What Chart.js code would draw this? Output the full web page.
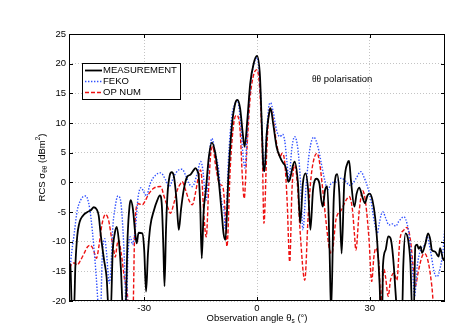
<!DOCTYPE html>
<html>
<head>
<meta charset="utf-8">
<script src="https://cdn.jsdelivr.net/npm/chart.js@4"></script>
<style>
  html, body { margin: 0; padding: 0; background: #fff; }
  canvas { display: block; }
</style>
</head>
<body>
<canvas id="rcs" width="474" height="334"></canvas>
<script>
// angles (deg) and RCS values (dBm^2); -22 = null below the axis
const measAngles = [-50, -49.6, -49.2, -48.7, -48.3, -47.8, -47.3, -46.9, -46.0, -45.1, -44.2, -43.4, -42.6, -42.1, -41.6, -40.7, -40.0, -39.4, -38.9, -38.4, -37.8, -37.3, -36.8, -36.2, -35.6, -35.0, -34.4, -33.9, -33.6, -33.0, -32.4, -32.0, -31.5, -30.5, -30.0, -29.5, -29.0, -28.4, -27.4, -26.5, -25.8, -25.3, -24.9, -24.6, -24.2, -23.8, -23.2, -22.7, -22.1, -21.4, -20.8, -20.2, -19.5, -18.6, -17.7, -16.8, -16.4, -15.9, -15.5, -15.1, -14.7, -14.2, -13.6, -12.8, -12.0, -11.1, -10.2, -9.3, -8.9, -8.4, -7.6, -6.7, -5.8, -5.2, -4.5, -3.8, -3.3, -2.5, -1.8, -0.9, 0, 0.8, 1.2, 1.7, 2.0, 2.6, 3.4, 3.6, 4.3, 5.2, 6.1, 7.0, 7.4, 7.8, 8.3, 8.7, 9.6, 10.0, 10.9, 11.5, 12.2, 12.9, 13.6, 14.2, 14.9, 15.8, 16.6, 17.1, 17.5, 18.1, 18.7, 19.3, 19.7, 20.4, 21.0, 21.3, 21.9, 22.5, 23.2, 24.1, 24.5, 25.0, 25.9, 26.5, 27.2, 28.0, 28.7, 29.4, 30.0, 30.7, 31.4, 32.0, 32.6, 32.9, 33.3, 33.5, 34.2, 34.9, 35.5, 35.9, 36.4, 36.9, 37.3, 38.6, 38.9, 39.5, 40.2, 40.8, 41.3, 41.7, 42.1, 42.6, 43.0, 43.5, 43.9, 44.8, 45.5, 46.1, 46.5, 47.4, 47.9, 48.3, 48.7, 49.6, 50];
const measValues = [-13.5, -14.5, -22, -22, -14, -9, -7, -6.2, -5.4, -5.0, -4.7, -4.2, -4.6, -5.6, -8.6, -13, -16, -22, -22, -12, -8.5, -7.5, -9.5, -14.5, -22, -22, -9, -4, -3, -4.5, -8.5, -10.3, -8.5, -8.6, -11.4, -18.4, -12, -7.5, -4.7, -3.0, -2.2, -4, -11, -17.5, -8, -2, 1.2, 1.7, 1.0, -3, -8.0, -4.5, -1.3, 0.9, 1.3, 2.1, 2.4, 2.0, 1.0, -4, -12.8, -5, -1.3, 4.3, 6.7, 4.9, 0.4, -5.8, -8.6, -9.7, 1.0, 9.4, 13.3, 13.9, 12.5, 8.3, 6.0, 11.1, 16.7, 20.0, 21.3, 17.8, 11, 2.6, 1.9, 8.3, 12.2, 12.5, 9.9, 6.0, 4.3, 3.2, 2.9, 2.1, 0.1, 0.4, 2.9, 3.5, -0.2, -6.9, -0.2, 1.5, -1.3, -8.0, -1.3, 0.6, -0.2, -3.0, -4.1, -1.3, -0.7, -11.4, -22, -3, 1.2, 1.4, -1.9, -12, -0.2, 3.3, 3.6, 0.2, -4.1, -1.9, -0.9, -2.4, -3.5, -2.2, -1.9, -3.0, -5.8, -10.3, -17, -22, -22, -14, -11.4, -9.1, -9.4, -10.8, -14.2, -19, -22, -22, -14.2, -8.6, -9.7, -13.6, -22, -22, -10.8, -10.5, -11.2, -10.8, -11.9, -10.3, -8.6, -9.7, -11.4, -11.7, -12.2, -12.5, -11.1, -13.1, -12.6];

const fekoAngles = [-50, -49.5, -48.6, -47.8, -46.9, -46.2, -45.5, -44.8, -44.2, -43.4, -42.7, -42.0, -41.6, -41.2, -40.5, -40.0, -39.3, -38.8, -38.4, -37.8, -37.0, -36.3, -35.7, -35.2, -34.8, -34.3, -33.7, -33.1, -32.3, -31.6, -30.8, -30.2, -29.4, -28.4, -27.0, -25.6, -24.3, -23.4, -22.1, -20.8, -19.9, -19.0, -18.1, -17.2, -15.9, -15.0, -14.4, -13.9, -13.5, -12.8, -12.0, -11.1, -10.2, -9.6, -9.2, -8.8, -8.4, -7.6, -6.7, -5.8, -5.2, -4.5, -3.6, -3.2, -2.5, -1.8, -0.9, 0, 0.8, 1.4, 1.85, 2.6, 3.2, 3.6, 4.3, 5.2, 6.1, 6.8, 7.4, 8.0, 8.5, 9.2, 10.0, 10.9, 11.6, 12.2, 13.1, 14.0, 15.1, 16.2, 17.1, 18.0, 18.8, 19.7, 21.0, 22.4, 23.7, 24.5, 25.4, 26.3, 27.6, 28.5, 29.4, 30.3, 31.1, 32.0, 32.5, 33.0, 33.5, 34.2, 35.1, 36.0, 36.9, 37.7, 39.1, 40.0, 40.4, 41.3, 41.9, 42.6, 43.5, 44.8, 45.2, 46.1, 47.2, 47.9, 48.7, 49.6, 50];
const fekoValues = [-17.5, -13.1, -8.6, -4.7, -3.0, -2.4, -2.3, -3.4, -5.8, -10.8, -16.4, -22, -22, -13.1, -9.5, -12, -17, -14, -8, -4.5, -2.3, -3, -7.5, -14.2, -22, -12, -9.2, -10.5, -7.5, -2.4, -0.9, -1.5, -2.3, -0.2, 1.2, 1.6, 0.4, -0.7, 1.0, 2.1, 2.2, 1.2, -0.2, -0.7, 1.5, 3.5, 2.1, -1.3, -3, 3.8, 7.4, 4.9, 2.1, -2.4, -3.8, -4.5, -8, 3.8, 11.1, 13.3, 13.8, 11.0, 3.8, 2.4, 9.9, 16.1, 19.8, 21.0, 16.7, 8.3, 1.8, 8.8, 13.0, 13.4, 11.9, 8.8, 7.7, 8.1, 6.9, 3.2, 0.4, 5.4, 7.7, 5.5, -0.2, -8, -0.2, 5.4, 7.6, 6.0, 3.2, 0.4, -1.3, -0.2, 0.1, 0.7, 0.1, -0.5, -0.2, 0.6, 1.8, 0.8, -0.75, -3, -6.3, -8.6, -7, -5.5, -5, -6, -7.2, -7.0, -7.4, -6.6, -5.8, -7.2, -8.6, -14.2, -19.2, -14.2, -11.4, -10.3, -9.1, -11.4, -15.3, -15.9, -14.5, -10.8, -7];

const opnumAngles = [-50, -49.5, -48.6, -47.8, -46.9, -46.0, -45.1, -44.4, -43.6, -42.7, -42.1, -41.2, -40.3, -39.5, -38.6, -38.1, -37.7, -37.2, -36.8, -36.1, -35.2, -34.6, -34.0, -33.0, -32.6, -32.2, -31.5, -30.5, -29.8, -29.0, -28.4, -27.5, -26.5, -25.6, -24.7, -23.8, -23.0, -22.1, -21.2, -20.3, -19.9, -19.0, -18.1, -17.2, -16.4, -15.5, -15.0, -14.6, -14.2, -13.5, -12.8, -12.2, -11.7, -11.1, -10.2, -9.8, -9.1, -8.4, -8.0, -7.1, -6.2, -5.4, -4.5, -3.9, -3.4, -2.7, -1.8, -0.9, 0, 0.8, 1.4, 1.85, 2.6, 3.2, 3.6, 4.3, 5.2, 6.1, 6.7, 7.4, 8.0, 8.7, 9.3, 10.0, 10.7, 11.5, 12.7, 13.6, 14.4, 15.3, 16.0, 16.6, 17.5, 18.4, 19.3, 19.9, 21.0, 22.4, 23.7, 24.5, 25.4, 25.9, 26.3, 27.2, 28.1, 28.9, 29.8, 30.5, 31.1, 31.6, 32.5, 32.9, 33.8, 34.2, 34.9, 35.5, 36.4, 37.2, 38.0, 39.1, 39.9, 40.8, 41.7, 42.1, 42.9, 43.9, 44.6, 45.6, 46.5, 47.2, 50];
const opnumValues = [-16.5, -14, -13.6, -13.9, -13.1, -12, -10.9, -10.6, -11.2, -12.8, -11, -7, -5.4, -6.3, -9.7, -11.4, -12.6, -10.5, -9.8, -12, -16.4, -18, -22, -22, -10, -4.7, -3.6, -3.8, -3.2, -2.2, -1.6, -1.0, -0.75, -0.7, -2.4, -4.1, -5.2, -3.5, -1.3, -0.2, 0.1, -1.3, -3.0, -3.8, -1.9, 1.2, 2.1, 0, -4.7, -9.2, -0.2, 5.4, 6.0, 3.2, 0.1, -0.4, -0.7, -5.8, -10.8, 2.6, 9.9, 11.3, 8.8, 1.0, -2.7, 5.4, 14.4, 18.1, 19.0, 15, 5.4, -6.9, 5.4, 11.9, 12.5, 10.5, 6.6, 4.3, 4.9, 3.2, -3, -13.4, -1.3, 2.9, 0, -8.6, -16.5, -5.8, 1.0, 4.3, 4.9, 3.5, -1.3, -6.9, -11.4, -12, -6.3, -4.7, -3.0, -2.4, -4.7, -8.6, -11.4, -4.7, -1.4, -3.5, -9.7, -16.7, -12.5, -11.1, -14.5, -20.5, -14.7, -16, -19.2, -16.5, -15.3, -16.5, -9.7, -8, -7.6, -9.7, -15.3, -17.5, -15, -12.5, -12, -13.6, -17.5, -22, -22];

const xTickValues = [-30, 0, 30];
const yMin = -20, yMax = 25, yStep = 5;

const toPoints = (xs, ys) => xs.map((x, i) => ({ x: x, y: ys[i] }));
const FONT = '"Liberation Sans", Arial, sans-serif';

// draw a run of text pieces, some as sub/superscript, centred on x
function drawRich(ctx, parts, x, y, size) {
  const pieces = parts.map(p => {
    const s = p.sub || p.sup ? size * 0.68 : size;
    ctx.font = s + 'px ' + FONT;
    return { t: p.t, s: s, w: ctx.measureText(p.t).width, dy: p.sub ? size * 0.3 : (p.sup ? -size * 0.38 : 0) };
  });
  let cx = x - pieces.reduce((a, p) => a + p.w, 0) / 2;
  ctx.textAlign = 'left';
  ctx.textBaseline = 'middle';
  pieces.forEach(p => {
    ctx.font = p.s + 'px ' + FONT;
    ctx.fillText(p.t, cx, y + p.dy);
    cx += p.w;
  });
}

const decorations = {
  id: 'decorations',
  afterDraw(chart) {
    const { ctx, chartArea: a, scales } = chart;
    ctx.save();
    ctx.fillStyle = '#000';
    ctx.strokeStyle = '#000';
    ctx.lineWidth = 1;

    // box and inward tick marks
    ctx.strokeRect(a.left + 0.5, a.top + 0.5, a.right - a.left - 1, a.bottom - a.top - 1);
    ctx.beginPath();
    for (let v = yMin; v <= yMax; v += yStep) {
      const py = Math.round(scales.y.getPixelForValue(v)) + 0.5;
      ctx.moveTo(a.left, py); ctx.lineTo(a.left + 4, py);
      ctx.moveTo(a.right, py); ctx.lineTo(a.right - 4, py);
    }
    xTickValues.forEach(v => {
      const px = Math.round(scales.x.getPixelForValue(v)) + 0.5;
      ctx.moveTo(px, a.bottom); ctx.lineTo(px, a.bottom - 4);
      ctx.moveTo(px, a.top); ctx.lineTo(px, a.top + 4);
    });
    ctx.stroke();

    // axis titles
    drawRich(ctx, [{ t: 'Observation angle θ' }, { t: 's', sub: true }, { t: ' (°)' }], (a.left + a.right) / 2, 318, 9.5);
    ctx.save();
    ctx.translate(42, (a.top + a.bottom) / 2);
    ctx.rotate(-Math.PI / 2);
    drawRich(ctx, [{ t: 'RCS σ' }, { t: 'θθ', sub: true }, { t: ' (dBm' }, { t: '2', sup: true }, { t: ')' }], 0, 0, 9.5);
    ctx.restore();

    // legend box
    ctx.fillStyle = '#fff';
    ctx.fillRect(82, 63, 98, 36);
    ctx.strokeRect(82.5, 63.5, 98, 36);
    ctx.textAlign = 'left';
    ctx.textBaseline = 'middle';
    ctx.font = '9.5px ' + FONT;
    chart.data.datasets.forEach((ds, i) => {
      const ly = 70.5 + i * 11;
      ctx.save();
      ctx.strokeStyle = ds.borderColor;
      ctx.lineWidth = ds.borderWidth;
      ctx.setLineDash(ds.borderDash || []);
      ctx.beginPath();
      ctx.moveTo(85, ly); ctx.lineTo(102, ly);
      ctx.stroke();
      ctx.restore();
      ctx.fillStyle = '#000';
      ctx.fillText(ds.label, 103, ly);
    });

    // polarisation note
    ctx.font = '9.5px "Liberation Serif", serif';
    ctx.fillText('θθ', 312, 79);
    const tw = ctx.measureText('θθ').width;
    ctx.font = '9.5px ' + FONT;
    ctx.fillText(' polarisation', 312 + tw, 79);
    ctx.restore();
  }
};

new Chart(document.getElementById('rcs'), {
  type: 'line',
  data: {
    datasets: [
      {
        label: 'MEASUREMENT',
        data: toPoints(measAngles, measValues),
        borderColor: '#000000',
        borderWidth: 1.8,
        pointRadius: 0,
        cubicInterpolationMode: 'monotone'
      },
      {
        label: 'FEKO',
        data: toPoints(fekoAngles, fekoValues),
        borderColor: '#3050ff',
        borderWidth: 1.4,
        borderDash: [1.4, 1.6],
        pointRadius: 0,
        cubicInterpolationMode: 'monotone'
      },
      {
        label: 'OP NUM',
        data: toPoints(opnumAngles, opnumValues),
        borderColor: '#ee1111',
        borderWidth: 1.4,
        borderDash: [4, 2],
        pointRadius: 0,
        cubicInterpolationMode: 'monotone'
      }
    ]
  },
  options: {
    responsive: false,
    animation: false,
    layout: { padding: { top: 34, right: 29, left: 0, bottom: 0 } },
    plugins: {
      legend: { display: false },
      tooltip: { enabled: false }
    },
    scales: {
      x: {
        type: 'linear',
        min: -50,
        max: 50,
        afterBuildTicks: s => { s.ticks = xTickValues.map(v => ({ value: v })); },
        afterFit: s => { s.height = 33; },
        grid: { color: '#c4c4c4', drawTicks: false },
        border: { display: false, dash: [1, 2] },
        ticks: { color: '#000', padding: 2, font: { size: 9.5, family: FONT } }
      },
      y: {
        min: yMin,
        max: yMax,
        afterFit: s => { s.width = 69; },
        grid: { color: '#c4c4c4', drawTicks: false },
        border: { display: false, dash: [1, 2] },
        ticks: { stepSize: yStep, color: '#000', padding: 3, font: { size: 9.5, family: FONT } }
      }
    }
  },
  plugins: [decorations]
});
</script>
</body>
</html>
